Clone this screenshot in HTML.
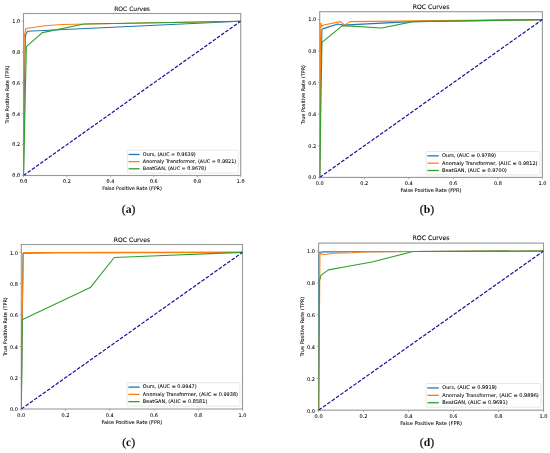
<!DOCTYPE html>
<html><head><meta charset="utf-8"><title>ROC Curves</title>
<style>
html,body{margin:0;padding:0;background:#fff;}
body{width:550px;height:453px;overflow:hidden;}
svg{display:block;filter:blur(0.3px);}
svg text{font-family:"DejaVu Sans","Liberation Sans",sans-serif;text-rendering:geometricPrecision;stroke:#000;stroke-width:0.07px;}
svg tspan.pr{font-weight:normal;stroke:#111;stroke-width:0.25px;}
svg text.cap{font-family:"Liberation Serif",serif;font-weight:bold;font-size:11.7px;fill:#111;stroke:none;}
</style></head><body>
<svg width="550" height="453" viewBox="0 0 550 453">
<defs><clipPath id="clipa"><rect x="23.5" y="13.5" width="217.2" height="162"/></clipPath>
<clipPath id="clipb"><rect x="319.7" y="11.7" width="222.7" height="165.7"/></clipPath>
<clipPath id="clipc"><rect x="21.3" y="244.5" width="221.2" height="164.5"/></clipPath>
<clipPath id="clipd"><rect x="318.6" y="243.1" width="224.9" height="167.1"/></clipPath></defs>
<rect width="550" height="453" fill="#fff"/>
<rect x="23.5" y="13.5" width="217.2" height="162" fill="none" stroke="#999999" stroke-width="1.1"/>
<g clip-path="url(#clipa)" fill="none" stroke-linejoin="round" stroke-linecap="butt">
<polyline points="23.5,175.5 24.37,82.93 25.39,35.72 27.41,31.24 240.7,21.21" stroke="#1f77b4" stroke-width="1.12"/>
<polyline points="23.5,175.5 24.15,36.64 25.89,28.47 45,25.69 61.94,24.45 240.7,21.21" stroke="#ff7f0e" stroke-width="1.12"/>
<polyline points="23.5,175.5 26.32,46.67 42.4,32.63 84.1,23.99 240.7,21.21" stroke="#2ca02c" stroke-width="1.12"/>
<line x1="23.5" y1="175.5" x2="240.7" y2="21.21" stroke="#12129a" stroke-width="1.2" stroke-dasharray="3.6 1.56"/>
</g>
<path d="M23.5 175.5v1.7M23.5 175.5h-1.7M66.94 175.5v1.7M23.5 144.64h-1.7M110.38 175.5v1.7M23.5 113.79h-1.7M153.82 175.5v1.7M23.5 82.93h-1.7M197.26 175.5v1.7M23.5 52.07h-1.7M240.7 175.5v1.7M23.5 21.21h-1.7" stroke="#999999" stroke-width="0.8" fill="none"/>
<g font-size="4.87" fill="#000">
<text x="23.5" y="182.6" text-anchor="middle">0.0</text>
<text x="20.09" y="177.27" text-anchor="end">0.0</text>
<text x="66.94" y="182.6" text-anchor="middle">0.2</text>
<text x="20.09" y="146.42" text-anchor="end">0.2</text>
<text x="110.38" y="182.6" text-anchor="middle">0.4</text>
<text x="20.09" y="115.56" text-anchor="end">0.4</text>
<text x="153.82" y="182.6" text-anchor="middle">0.6</text>
<text x="20.09" y="84.7" text-anchor="end">0.6</text>
<text x="197.26" y="182.6" text-anchor="middle">0.8</text>
<text x="20.09" y="53.84" text-anchor="end">0.8</text>
<text x="240.7" y="182.6" text-anchor="middle">1.0</text>
<text x="20.09" y="22.99" text-anchor="end">1.0</text>
<text x="132.1" y="190.3" text-anchor="middle">False Positive Rate (FPR)</text>
<text transform="translate(9.26 94.5) rotate(-90)" text-anchor="middle">True Positive Rate (TPR)</text>
<text x="132.1" y="10.58" font-size="6.01" text-anchor="middle">ROC Curves</text>
</g>
<rect x="127.3" y="150.18" width="110.97" height="22.89" rx="0.97" fill="#fff" fill-opacity="0.8" stroke="#d0d0d0" stroke-width="0.5"/>
<line x1="129.24" y1="154.48" x2="138.97" y2="154.48" stroke="#1f77b4" stroke-width="1.3" stroke-linecap="square"/>
<line x1="129.24" y1="161.62" x2="138.97" y2="161.62" stroke="#ff7f0e" stroke-width="1.3" stroke-linecap="square"/>
<line x1="129.24" y1="168.77" x2="138.97" y2="168.77" stroke="#2ca02c" stroke-width="1.3" stroke-linecap="square"/>
<g font-size="4.87" fill="#000">
<text x="142.87" y="155.82">Ours, (AUC = 0.9639)</text>
<text x="142.87" y="162.97">Anomaly Transformer, (AUC = 0.9821)</text>
<text x="142.87" y="170.11">BeatGAN, (AUC = 0.9678)</text>
</g>
<text x="128.65" y="212.9" class="cap" text-anchor="middle"><tspan class="pr">(</tspan>a<tspan class="pr">)</tspan></text>
<rect x="319.7" y="11.7" width="222.7" height="165.7" fill="none" stroke="#999999" stroke-width="1.1"/>
<g clip-path="url(#clipb)" fill="none" stroke-linejoin="round" stroke-linecap="butt">
<polyline points="319.7,177.4 320.59,82.71 321.93,29.69 322.82,28.9 337.74,24.01 343.31,25.11 411.01,21.64 542.4,19.59" stroke="#1f77b4" stroke-width="1.12"/>
<polyline points="319.7,177.4 320.59,35.37 320.81,23.06 321.93,26.69 323.49,24.96 340.63,21.64 344.64,25.11 349.99,21.64 542.4,19.59" stroke="#ff7f0e" stroke-width="1.12"/>
<polyline points="319.7,177.4 321.93,42.32 342.42,25.59 381.83,27.95 413.01,21.64 542.4,19.59" stroke="#2ca02c" stroke-width="1.12"/>
<line x1="319.7" y1="177.4" x2="542.4" y2="19.59" stroke="#12129a" stroke-width="1.2" stroke-dasharray="3.69 1.6"/>
</g>
<path d="M319.7 177.4v1.75M319.7 177.4h-1.75M364.24 177.4v1.75M319.7 145.84h-1.75M408.78 177.4v1.75M319.7 114.28h-1.75M453.32 177.4v1.75M319.7 82.71h-1.75M497.86 177.4v1.75M319.7 51.15h-1.75M542.4 177.4v1.75M319.7 19.59h-1.75" stroke="#999999" stroke-width="0.8" fill="none"/>
<g font-size="4.99" fill="#000">
<text x="319.7" y="184.68" text-anchor="middle">0.0</text>
<text x="316.21" y="179.22" text-anchor="end">0.0</text>
<text x="364.24" y="184.68" text-anchor="middle">0.2</text>
<text x="316.21" y="147.66" text-anchor="end">0.2</text>
<text x="408.78" y="184.68" text-anchor="middle">0.4</text>
<text x="316.21" y="116.09" text-anchor="end">0.4</text>
<text x="453.32" y="184.68" text-anchor="middle">0.6</text>
<text x="316.21" y="84.53" text-anchor="end">0.6</text>
<text x="497.86" y="184.68" text-anchor="middle">0.8</text>
<text x="316.21" y="52.97" text-anchor="end">0.8</text>
<text x="542.4" y="184.68" text-anchor="middle">1.0</text>
<text x="316.21" y="21.41" text-anchor="end">1.0</text>
<text x="431.05" y="191.85" text-anchor="middle">False Positive Rate (FPR)</text>
<text transform="translate(305.1 94.55) rotate(-90)" text-anchor="middle">True Positive Rate (TPR)</text>
<text x="431.05" y="8.71" font-size="6.17" text-anchor="middle">ROC Curves</text>
</g>
<rect x="426.12" y="151.44" width="113.78" height="23.47" rx="1" fill="#fff" fill-opacity="0.8" stroke="#d0d0d0" stroke-width="0.5"/>
<line x1="428.12" y1="155.85" x2="438.1" y2="155.85" stroke="#1f77b4" stroke-width="1.3" stroke-linecap="square"/>
<line x1="428.12" y1="163.17" x2="438.1" y2="163.17" stroke="#ff7f0e" stroke-width="1.3" stroke-linecap="square"/>
<line x1="428.12" y1="170.5" x2="438.1" y2="170.5" stroke="#2ca02c" stroke-width="1.3" stroke-linecap="square"/>
<g font-size="4.99" fill="#000">
<text x="442.09" y="157.23">Ours, (AUC = 0.9789)</text>
<text x="442.09" y="164.55">Anomaly Transformer, (AUC = 0.9812)</text>
<text x="442.09" y="171.87">BeatGAN, (AUC = 0.9700)</text>
</g>
<text x="426.9" y="212.9" class="cap" text-anchor="middle"><tspan class="pr">(</tspan>b<tspan class="pr">)</tspan></text>
<rect x="21.3" y="244.5" width="221.2" height="164.5" fill="none" stroke="#999999" stroke-width="1.1"/>
<g clip-path="url(#clipc)" fill="none" stroke-linejoin="round" stroke-linecap="butt">
<polyline points="21.3,409 23.07,253.27 43.42,252.96 56.69,252.65 242.5,252.33" stroke="#1f77b4" stroke-width="1.12"/>
<polyline points="21.3,409 22.07,319.7 23.29,252.65 242.5,252.33" stroke="#ff7f0e" stroke-width="1.12"/>
<polyline points="21.3,409 22.18,319.86 90.31,287.58 114.2,257.5 242.5,252.33" stroke="#2ca02c" stroke-width="1.12"/>
<line x1="21.3" y1="409" x2="242.5" y2="252.33" stroke="#12129a" stroke-width="1.2" stroke-dasharray="3.67 1.59"/>
</g>
<path d="M21.3 409v1.73M21.3 409h-1.73M65.54 409v1.73M21.3 377.67h-1.73M109.78 409v1.73M21.3 346.33h-1.73M154.02 409v1.73M21.3 315h-1.73M198.26 409v1.73M21.3 283.67h-1.73M242.5 409v1.73M21.3 252.33h-1.73" stroke="#999999" stroke-width="0.8" fill="none"/>
<g font-size="4.96" fill="#000">
<text x="21.3" y="416.63" text-anchor="middle">0.0</text>
<text x="17.83" y="411.31" text-anchor="end">0.0</text>
<text x="65.54" y="416.63" text-anchor="middle">0.2</text>
<text x="17.83" y="379.97" text-anchor="end">0.2</text>
<text x="109.78" y="416.63" text-anchor="middle">0.4</text>
<text x="17.83" y="348.64" text-anchor="end">0.4</text>
<text x="154.02" y="416.63" text-anchor="middle">0.6</text>
<text x="17.83" y="317.31" text-anchor="end">0.6</text>
<text x="198.26" y="416.63" text-anchor="middle">0.8</text>
<text x="17.83" y="285.97" text-anchor="end">0.8</text>
<text x="242.5" y="416.63" text-anchor="middle">1.0</text>
<text x="17.83" y="254.64" text-anchor="end">1.0</text>
<text x="131.9" y="423.65" text-anchor="middle">False Positive Rate (FPR)</text>
<text transform="translate(6.8 326.75) rotate(-90)" text-anchor="middle">True Positive Rate (TPR)</text>
<text x="131.9" y="241.53" font-size="6.12" text-anchor="middle">ROC Curves</text>
</g>
<rect x="127.01" y="382.71" width="113.02" height="23.31" rx="0.99" fill="#fff" fill-opacity="0.8" stroke="#d0d0d0" stroke-width="0.5"/>
<line x1="128.99" y1="387.09" x2="138.9" y2="387.09" stroke="#1f77b4" stroke-width="1.3" stroke-linecap="square"/>
<line x1="128.99" y1="394.37" x2="138.9" y2="394.37" stroke="#ff7f0e" stroke-width="1.3" stroke-linecap="square"/>
<line x1="128.99" y1="401.64" x2="138.9" y2="401.64" stroke="#2ca02c" stroke-width="1.3" stroke-linecap="square"/>
<g font-size="4.96" fill="#000">
<text x="142.86" y="388.46">Ours, (AUC = 0.9947)</text>
<text x="142.86" y="395.74">Anomaly Transformer, (AUC = 0.9938)</text>
<text x="142.86" y="403.01">BeatGAN, (AUC = 0.8581)</text>
</g>
<text x="128.7" y="446" class="cap" text-anchor="middle"><tspan class="pr">(</tspan>c<tspan class="pr">)</tspan></text>
<rect x="318.6" y="243.1" width="224.9" height="167.1" fill="none" stroke="#999999" stroke-width="1.1"/>
<g clip-path="url(#clipd)" fill="none" stroke-linejoin="round" stroke-linecap="butt">
<polyline points="318.6,410.2 318.71,252.49 323.1,251.85 363.58,251.69 413.06,251.53 543.5,251.06" stroke="#1f77b4" stroke-width="1.12"/>
<polyline points="318.6,410.2 319.95,253.6 324.22,254.56 334.34,253.29 352.34,252.81 363.58,252.01 413.06,251.53 543.5,251.06" stroke="#ff7f0e" stroke-width="1.12"/>
<polyline points="318.6,410.2 319.27,281.45 321.07,275.09 328.5,269.84 346.94,266.49 371.9,262.04 413.06,251.53 543.5,251.06" stroke="#2ca02c" stroke-width="1.12"/>
<line x1="318.6" y1="410.2" x2="543.5" y2="251.06" stroke="#12129a" stroke-width="1.2" stroke-dasharray="3.73 1.61"/>
</g>
<path d="M318.6 410.2v1.76M318.6 410.2h-1.76M363.58 410.2v1.76M318.6 378.37h-1.76M408.56 410.2v1.76M318.6 346.54h-1.76M453.54 410.2v1.76M318.6 314.71h-1.76M498.52 410.2v1.76M318.6 282.89h-1.76M543.5 410.2v1.76M318.6 251.06h-1.76" stroke="#999999" stroke-width="0.8" fill="none"/>
<g font-size="5.04" fill="#000">
<text x="318.6" y="417.55" text-anchor="middle">0.0</text>
<text x="315.07" y="412.64" text-anchor="end">0.0</text>
<text x="363.58" y="417.55" text-anchor="middle">0.2</text>
<text x="315.07" y="380.81" text-anchor="end">0.2</text>
<text x="408.56" y="417.55" text-anchor="middle">0.4</text>
<text x="315.07" y="348.98" text-anchor="end">0.4</text>
<text x="453.54" y="417.55" text-anchor="middle">0.6</text>
<text x="315.07" y="317.15" text-anchor="end">0.6</text>
<text x="498.52" y="417.55" text-anchor="middle">0.8</text>
<text x="315.07" y="285.32" text-anchor="end">0.8</text>
<text x="543.5" y="417.55" text-anchor="middle">1.0</text>
<text x="315.07" y="253.49" text-anchor="end">1.0</text>
<text x="431.05" y="425.49" text-anchor="middle">False Positive Rate (FPR)</text>
<text transform="translate(303.86 326.65) rotate(-90)" text-anchor="middle">True Positive Rate (TPR)</text>
<text x="431.05" y="240.08" font-size="6.23" text-anchor="middle">ROC Curves</text>
</g>
<rect x="426.08" y="383.48" width="114.91" height="23.7" rx="1.01" fill="#fff" fill-opacity="0.8" stroke="#d0d0d0" stroke-width="0.5"/>
<line x1="428.09" y1="387.94" x2="438.17" y2="387.94" stroke="#1f77b4" stroke-width="1.3" stroke-linecap="square"/>
<line x1="428.09" y1="395.33" x2="438.17" y2="395.33" stroke="#ff7f0e" stroke-width="1.3" stroke-linecap="square"/>
<line x1="428.09" y1="402.73" x2="438.17" y2="402.73" stroke="#2ca02c" stroke-width="1.3" stroke-linecap="square"/>
<g font-size="5.04" fill="#000">
<text x="442.2" y="389.33">Ours, (AUC = 0.9919)</text>
<text x="442.2" y="396.72">Anomaly Transformer, (AUC = 0.9896)</text>
<text x="442.2" y="404.12">BeatGAN, (AUC = 0.9691)</text>
</g>
<text x="427" y="446" class="cap" text-anchor="middle"><tspan class="pr">(</tspan>d<tspan class="pr">)</tspan></text>
</svg>
</body></html>
